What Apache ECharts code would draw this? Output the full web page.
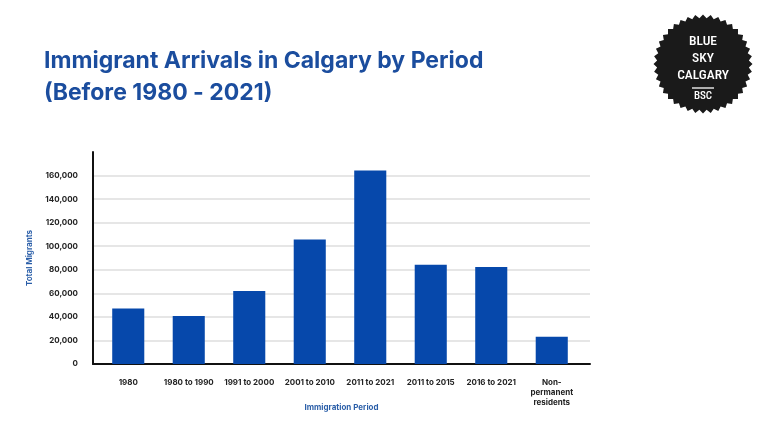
<!DOCTYPE html>
<html>
<head>
<meta charset="utf-8">
<script src="https://cdn.jsdelivr.net/npm/echarts@6/dist/echarts.min.js"></script>
<style>
  html, body { margin: 0; padding: 0; background: #fff; }
  #chart { width: 768px; height: 432px; }
</style>
</head>
<body>
<div id="chart"></div>
<script>
var chart = echarts.init(document.getElementById('chart'));

var periods = ['1980', '1980 to 1990', '1991 to 2000', '2001 to 2010', '2011 to 2021',
    '2011 to 2015', '2016 to 2021', 'Non-\npermanent\nresidents'];
var migrants = [47200, 40800, 62000, 105700, 164300, 84200, 82400, 23100];

var yMax = 180000;
var yStep = 20000;

// scalloped badge outline (decoration only)
var badge = [];
var cx = 703, cy = 64, teeth = 40;
for (var i = 0; i < teeth * 2; i++) {
    var a = Math.PI * i / teeth;
    var r = i % 2 === 0 ? 49.5 : 46;
    badge.push([cx + r * Math.cos(a), cy + r * Math.sin(a)]);
}

var blue = '#0648ab';
var labelFont = 'Inter';
var logoFont = '"Roboto Condensed", Roboto, "DejaVu Sans"';

option = {
    backgroundColor: '#fff',
    textStyle: { fontFamily: labelFont },
    graphic: [
        {
            type: 'text', left: 44, top: 45,
            style: {
                text: 'Immigrant Arrivals in Calgary by Period\n(Before 1980 - 2021)',
                fill: '#1b4d9e', font: 'bold 23px Inter', lineHeight: 32
            }
        },
        {
            type: 'polygon',
            shape: { points: badge },
            style: { fill: '#1a1a1a' }
        },
        {
            type: 'text', x: cx, y: 33,
            style: {
                text: 'BLUE\nSKY\nCALGARY',
                fill: '#fff', font: '500 13.5px ' + logoFont,
                align: 'center', lineHeight: 17
            }
        },
        {
            type: 'line',
            shape: { x1: cx - 11, y1: 88, x2: cx + 11, y2: 88 },
            style: { stroke: '#fff', lineWidth: 1.3 }
        },
        {
            type: 'text', x: cx, y: 90.5,
            style: {
                text: 'BSC',
                fill: '#fff', font: '500 11px ' + logoFont,
                align: 'center'
            }
        }
    ],
    grid: [
        // frame: gridlines and axis lines
        { left: 93, right: 178, top: 152, bottom: 68 },
        // bars sit slightly inset inside the frame
        { left: 98, right: 186, top: 152, bottom: 68 }
    ],
    xAxis: [
        {
            type: 'category',
            gridIndex: 0,
            data: periods,
            name: 'Immigration Period',
            nameLocation: 'middle',
            nameGap: 40,
            nameTextStyle: { color: '#2a5ea8', fontSize: 8, fontWeight: 'bold' },
            axisLine: { lineStyle: { color: '#111', width: 2 } },
            axisTick: { show: false },
            axisLabel: { show: false }
        },
        {
            type: 'category',
            gridIndex: 1,
            data: periods,
            axisLine: { show: false },
            axisTick: { show: false },
            axisLabel: { color: '#222', fontSize: 8, fontWeight: 'bold', margin: 14, lineHeight: 10, interval: 0 }
        }
    ],
    yAxis: [
        {
            type: 'value',
            gridIndex: 0,
            min: 0,
            max: yMax,
            interval: yStep,
            name: 'Total Migrants',
            nameLocation: 'middle',
            nameGap: 59,
            nameTextStyle: { color: '#2a5ea8', fontSize: 8, fontWeight: 'bold' },
            axisLine: { show: true, lineStyle: { color: '#111', width: 2 } },
            axisTick: { show: false },
            axisLabel: {
                color: '#222', fontSize: 8, fontWeight: 'bold', margin: 15,
                formatter: function (v) {
                    return v === yMax ? '' : v.toLocaleString('en-US');
                }
            },
            splitLine: {
                lineStyle: {
                    width: 1.5,
                    color: ['#dedede', '#dedede', '#dedede', '#dedede', '#dedede',
                        '#dedede', '#dedede', '#dedede', '#dedede', 'rgba(0,0,0,0)']
                }
            }
        },
        {
            type: 'value',
            gridIndex: 1,
            min: 0,
            max: yMax,
            interval: yStep,
            show: false,
            splitLine: { show: false }
        }
    ],
    series: [
        {
            type: 'bar',
            xAxisIndex: 1,
            yAxisIndex: 1,
            data: migrants,
            barWidth: '53%',
            itemStyle: { color: blue },
            silent: true,
            z: 3
        }
    ],
    animation: false
};

chart.setOption(option);
</script>
</body>
</html>
